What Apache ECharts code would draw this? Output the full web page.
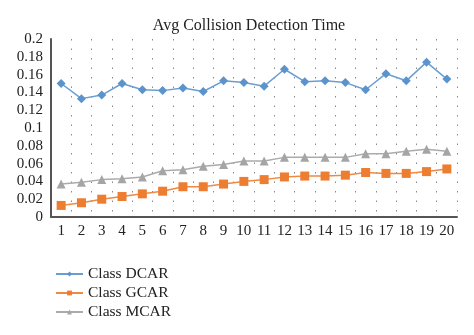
<!DOCTYPE html>
<html>
<head>
<meta charset="utf-8">
<script src="https://cdn.jsdelivr.net/npm/echarts@6/dist/echarts.min.js"></script>
<style>
  html, body { margin: 0; padding: 0; background: #fff; }
  #chart { width: 474px; height: 335px; }
</style>
</head>
<body>
<div id="chart"></div>
<script>
// Run indices along the x axis
const categories = ['1','2','3','4','5','6','7','8','9','10','11','12','13','14','15','16','17','18','19','20'];

// Average collision detection time per class
const dcar = [0.150, 0.133, 0.137, 0.150, 0.143, 0.142, 0.145, 0.141, 0.153, 0.151, 0.147, 0.166, 0.152, 0.153, 0.151, 0.143, 0.161, 0.153, 0.174, 0.155];
const gcar = [0.013, 0.016, 0.020, 0.023, 0.026, 0.029, 0.034, 0.034, 0.037, 0.040, 0.042, 0.045, 0.046, 0.046, 0.047, 0.050, 0.049, 0.049, 0.051, 0.054];
const mcar = [0.037, 0.039, 0.042, 0.043, 0.045, 0.052, 0.053, 0.057, 0.059, 0.063, 0.063, 0.067, 0.067, 0.067, 0.067, 0.071, 0.071, 0.074, 0.076, 0.074];

// Y axis tick labels
const yTicks = ['0', '0.02', '0.04', '0.06', '0.08', '0.1', '0.12', '0.14', '0.16', '0.18', '0.2'];

const font = '"Liberation Serif", "DejaVu Serif", serif';

const chart = echarts.init(document.getElementById('chart'));
chart.setOption({
  animation: false,
  textStyle: { fontFamily: font },
  title: {
    text: 'Avg Collision Detection Time',
    left: 244, top: 13, textAlign: 'center',
    textStyle: { fontFamily: font, fontSize: 16, fontWeight: 'normal', color: '#222' }
  },
  legend: {
    orient: 'vertical',
    left: 50, top: 261,
    itemWidth: 27, itemHeight: 6, itemGap: 3,
    textStyle: { fontFamily: font, fontSize: 15.5, color: '#222' },
    data: ['Class DCAR', 'Class GCAR', 'Class MCAR']
  },
  grid: { left: 51, right: 17, top: 39, bottom: 118, containLabel: false },
  xAxis: {
    type: 'category',
    data: categories,
    boundaryGap: true,
    axisLine: { lineStyle: { color: '#555', width: 2 } },
    axisTick: { show: false },
    axisLabel: { fontFamily: font, fontSize: 15, color: '#222', margin: 7 },
    splitLine: { show: true, interval: 0, lineStyle: { color: '#888', type: [1.5, 8], width: 1 } }
  },
  yAxis: {
    type: 'value',
    min: 0, max: 0.2, interval: 0.02,
    axisLine: { show: true, lineStyle: { color: '#555', width: 2 } },
    axisTick: { show: false },
    splitLine: { show: false },
    axisLabel: {
      fontFamily: font, fontSize: 15, color: '#222', margin: 8,
      formatter: (v, i) => yTicks[i]
    }
  },
  series: [
    {
      name: 'Class DCAR', type: 'line', data: dcar,
      symbol: 'diamond', symbolSize: 9,
      lineStyle: { color: '#6a9ed3', width: 1.5 },
      itemStyle: { color: '#5b93cc' }
    },
    {
      name: 'Class GCAR', type: 'line', data: gcar,
      symbol: 'rect', symbolSize: 9,
      lineStyle: { color: '#ed8a45', width: 1.5 },
      itemStyle: { color: '#ed7d31' }
    },
    {
      name: 'Class MCAR', type: 'line', data: mcar,
      symbol: 'triangle', symbolSize: 9,
      lineStyle: { color: '#ababab', width: 1.5 },
      itemStyle: { color: '#a5a5a5' }
    }
  ]
});
</script>
</body>
</html>
